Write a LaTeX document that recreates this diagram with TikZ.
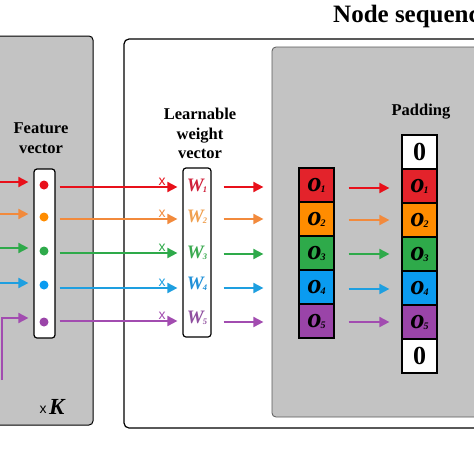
\documentclass[tikz,border=0pt]{standalone}
\usepackage{fontspec}
\setmainfont{Liberation Serif}
\newfontfamily\sansx{Liberation Sans}
\usetikzlibrary{arrows.meta,calc}
\definecolor{boxgray}{RGB}{195,195,195}
\definecolor{cred}{RGB}{227,35,43}
\definecolor{corange}{RGB}{255,140,0}
\definecolor{cgreen}{RGB}{46,170,74}
\definecolor{cblue}{RGB}{10,155,240}
\definecolor{cpurple}{RGB}{154,68,168}
\definecolor{ared}{RGB}{232,16,26}
\definecolor{aorange}{RGB}{242,138,60}
\definecolor{agreen}{RGB}{46,170,74}
\definecolor{ablue}{RGB}{30,159,224}
\definecolor{apurple}{RGB}{162,76,176}
\definecolor{wred}{RGB}{208,32,58}
\definecolor{worange}{RGB}{240,160,80}
\definecolor{wgreen}{RGB}{59,170,80}
\definecolor{wblue}{RGB}{32,144,216}
\definecolor{wpurple}{RGB}{144,80,160}
\newcommand{\osub}[1]{{\fontsize{28}{28}\selectfont\bfseries\itshape o}\kern-1pt\raisebox{-1pt}{\fontsize{10}{10}\selectfont\bfseries\itshape #1}}
\newcommand{\wsub}[1]{{\fontsize{19}{19}\selectfont\bfseries\itshape W}\kern-1pt\raisebox{-1pt}{\fontsize{8.5}{8.5}\selectfont\bfseries\itshape #1}}
\tikzset{
  arr/.style={line width=1.8pt,-{Triangle[length=10pt,width=10pt]}},
  cell/.style={draw=black,line width=1.2pt,minimum width=35pt,minimum height=34pt,inner sep=0pt},
  vbox/.style={draw=black,line width=1.2pt,fill=white,rounded corners=3pt},
  dot/.style={circle,inner sep=0pt,minimum size=9pt},
  title/.style={font=\fontsize{16.5}{19.5}\selectfont\bfseries,align=center},
  xlab/.style={font=\sansx\fontsize{14}{14}\selectfont,inner sep=0.5pt},
}
\begin{document}
\begin{tikzpicture}[x=1pt,y=-1pt]
\useasboundingbox (0,0) rectangle (474,474);
% left gray box
\draw[fill=boxgray,line width=1pt,rounded corners=4pt] (-10,36) rectangle (93,425);
% middle white box
\draw[fill=white,line width=1.2pt,rounded corners=5pt] (124,39) rectangle (490,428);
% inner gray box
\draw[fill=boxgray,draw=gray!70!black,line width=0.8pt,rounded corners=4pt] (272,47) rectangle (490,417);
% title
\node[anchor=base west,inner sep=0pt,font=\fontsize{25}{25}\selectfont\bfseries] (ttl) at (333,22) {Node sequence};
% feature vector
\node[title] (ft) at (41,138) {Feature\\vector};
\node[vbox,minimum width=21pt,minimum height=169pt,inner sep=0pt] (fv) at (44.5,253.5) {};
\node[dot,fill=ared] (d1) at (44,185) {};
\node[dot,fill=corange] (d2) at (44,217) {};
\node[dot,fill=agreen] (d3) at (44,251) {};
\node[dot,fill=cblue] (d4) at (44,285) {};
\node[dot,fill=cpurple] (d5) at (44,322) {};
% inputs
\coordinate (i1) at (0,182);
\coordinate (i2) at (0,214);
\coordinate (i3) at (0,248);
\coordinate (i4) at (0,283);
\coordinate (i5) at (2,380);
\draw[arr,ared] (i1) -- ($(fv.west|-i1)+(-5,0)$);
\draw[arr,aorange] (i2) -- ($(fv.west|-i2)+(-5,0)$);
\draw[arr,agreen] (i3) -- ($(fv.west|-i3)+(-5,0)$);
\draw[arr,ablue] (i4) -- ($(fv.west|-i4)+(-5,0)$);
\draw[arr,apurple] (i5) -- (2,318) -- ($(fv.west)+(-5,318-253.5)$);
% xK
\node[xlab,anchor=base] (xk) at (43,413) {x};
\node[anchor=base west,inner sep=0pt,font=\fontsize{23}{23}\selectfont\bfseries\itshape] (kk) at (49,414) {K};
% learnable weight vector
\node[title] (lt) at (200,133.5) {Learnable\\weight\\vector};
\node[vbox,minimum width=28pt,minimum height=169pt,inner sep=0pt] (wv) at (197,252.5) {};
\node[text=wred,inner sep=0pt] (w1) at (197,186) {\wsub{1}};
\node[text=worange,inner sep=0pt] (w2) at (197,217) {\wsub{2}};
\node[text=wgreen,inner sep=0pt] (w3) at (197,253) {\wsub{3}};
\node[text=wblue,inner sep=0pt] (w4) at (197,284) {\wsub{4}};
\node[text=wpurple,inner sep=0pt] (w5) at (197,318) {\wsub{5}};
% lines from feature vector to weight vector
\draw[arr,ared] ($(fv.east|-d1)+(4,2)$) -- ($(wv.west|-d1)+(-5,2)$) node[xlab,pos=0.87,above,text=ared] {x};
\draw[arr,aorange] ($(fv.east|-d2)+(4,2)$) -- ($(wv.west|-d2)+(-5,2)$) node[xlab,pos=0.87,above,text=aorange] {x};
\draw[arr,agreen] ($(fv.east|-d3)+(4,2)$) -- ($(wv.west|-d3)+(-5,2)$) node[xlab,pos=0.87,above,text=agreen] {x};
\draw[arr,ablue] ($(fv.east|-d4)+(4,3)$) -- ($(wv.west|-d4)+(-5,3)$) node[xlab,pos=0.87,above,text=ablue] {x};
\draw[arr,apurple] ($(fv.east|-d5)+(4,-1)$) -- ($(wv.west|-d5)+(-5,-1)$) node[xlab,pos=0.87,above,text=apurple] {x};
% node sequence cells
\node[cell,fill=cred] (a1) at (316.5,185) {\osub{1}};
\node[cell,fill=corange] (a2) at (316.5,219) {\osub{2}};
\node[cell,fill=cgreen] (a3) at (316.5,253) {\osub{3}};
\node[cell,fill=cblue] (a4) at (316.5,287) {\osub{4}};
\node[cell,fill=cpurple] (a5) at (316.5,321) {\osub{5}};
% arrows weight -> cells
\draw[arr,ared] ($(wv.east|-a1)+(12,2)$) -- ($(a1.west)+(-35,2)$);
\draw[arr,aorange] ($(wv.east|-a2)+(12,0)$) -- ($(a2.west)+(-35,0)$);
\draw[arr,agreen] ($(wv.east|-a3)+(12,1)$) -- ($(a3.west)+(-35,1)$);
\draw[arr,ablue] ($(wv.east|-a4)+(12,1)$) -- ($(a4.west)+(-35,1)$);
\draw[arr,apurple] ($(wv.east|-a5)+(12,1)$) -- ($(a5.west)+(-35,1)$);
% padding
\node[title] (pt) at (421,112) {Padding};
\node[cell,fill=white,font=\fontsize{26}{26}\selectfont\bfseries] (p0) at (419.5,152) {0};
\node[cell,fill=cred] (p1) at (419.5,186) {\osub{1}};
\node[cell,fill=corange] (p2) at (419.5,220) {\osub{2}};
\node[cell,fill=cgreen] (p3) at (419.5,254) {\osub{3}};
\node[cell,fill=cblue] (p4) at (419.5,288) {\osub{4}};
\node[cell,fill=cpurple] (p5) at (419.5,322) {\osub{5}};
\node[cell,fill=white,font=\fontsize{26}{26}\selectfont\bfseries] (p6) at (419.5,356) {0};
% arrows cells -> padded cells
\draw[arr,ared] ($(a1.east)+(14,3)$) -- ($(p1.west)+(-12,2)$);
\draw[arr,aorange] ($(a2.east)+(14,1)$) -- ($(p2.west)+(-12,0)$);
\draw[arr,agreen] ($(a3.east)+(14,1)$) -- ($(p3.west)+(-12,0)$);
\draw[arr,ablue] ($(a4.east)+(14,2)$) -- ($(p4.west)+(-12,1)$);
\draw[arr,apurple] ($(a5.east)+(14,1)$) -- ($(p5.west)+(-12,0)$);
\end{tikzpicture}
\end{document}
